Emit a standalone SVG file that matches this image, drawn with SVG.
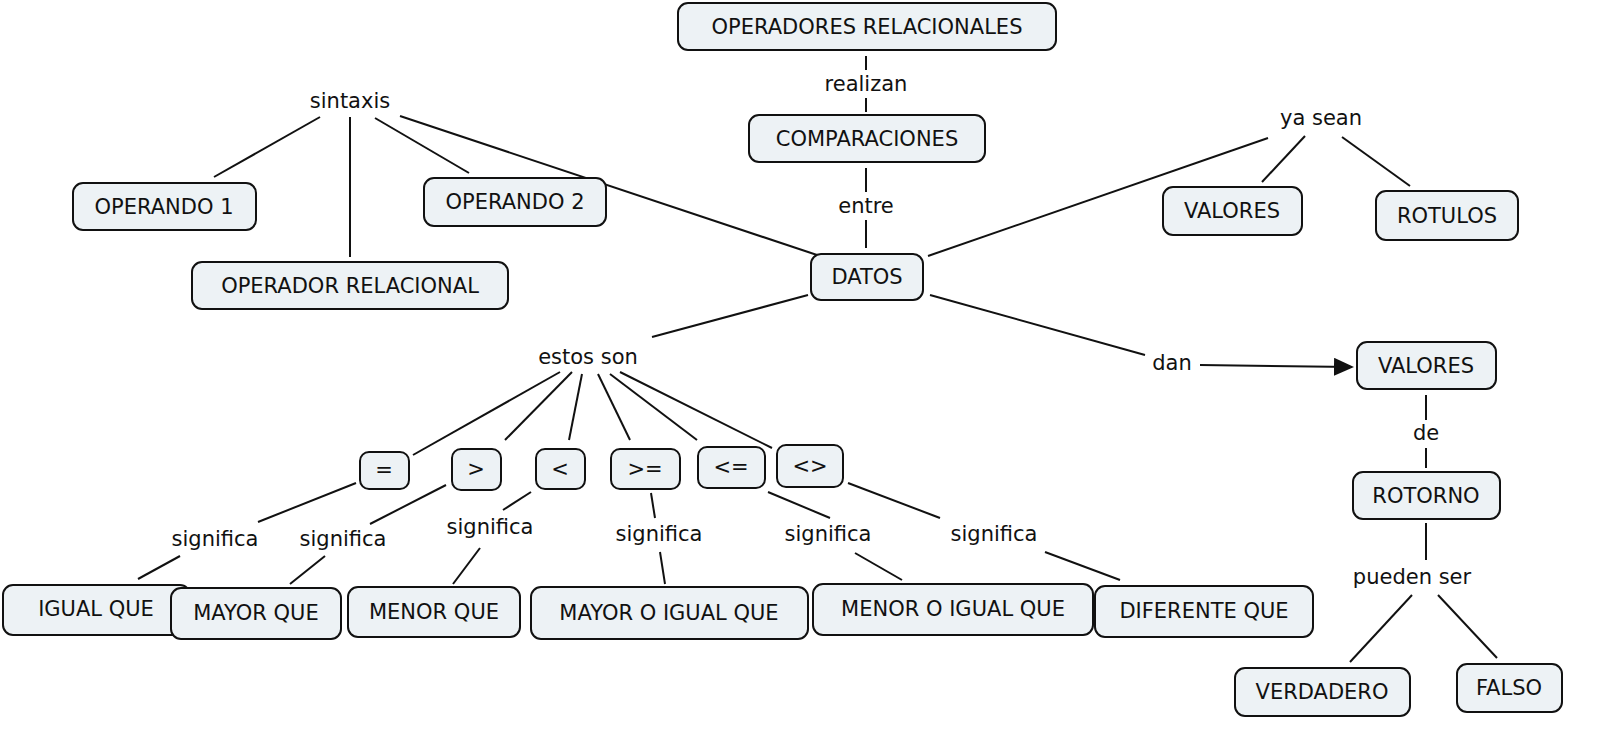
<svg xmlns="http://www.w3.org/2000/svg" width="1600" height="735" viewBox="0 0 1600 735">
<style>
.n rect{fill:#edf2f5;stroke:#111;stroke-width:2}
text{font-family:"DejaVu Sans",Verdana,sans-serif;font-size:21px;fill:#111;text-anchor:middle;dominant-baseline:central}
.c line{stroke:#111;stroke-width:2}
</style>
<defs><marker id="a" markerWidth="20" markerHeight="20" refX="18" refY="9" orient="auto" markerUnits="userSpaceOnUse" viewBox="0 0 20 20"><path d="M0,0L20,9L0,18z" fill="#111"/></marker></defs>
<rect width="1600" height="735" fill="#fff"/>
<g class="c">
<line x1="320" y1="117" x2="214" y2="177"/><line x1="350" y1="117" x2="350" y2="257"/><line x1="375" y1="118" x2="469" y2="173"/><line x1="400" y1="116" x2="820" y2="256"/>
<line x1="866" y1="56" x2="866" y2="70"/><line x1="866" y1="98" x2="866" y2="112"/><line x1="866" y1="168" x2="866" y2="192"/><line x1="866" y1="220" x2="866" y2="248"/>
<line x1="1268" y1="138" x2="928" y2="256"/><line x1="1305" y1="136" x2="1262" y2="182"/><line x1="1342" y1="137" x2="1410" y2="186"/>
<line x1="808" y1="295" x2="652" y2="337"/><line x1="560" y1="372" x2="413" y2="455"/><line x1="572" y1="372" x2="505" y2="440"/><line x1="582" y1="374" x2="569" y2="440"/><line x1="598" y1="374" x2="630" y2="440"/><line x1="610" y1="374" x2="697" y2="440"/><line x1="620" y1="372" x2="772" y2="448"/>
<line x1="930" y1="295" x2="1145" y2="355"/><line x1="1200" y1="365" x2="1352" y2="367" marker-end="url(#a)"/>
<line x1="1426" y1="395" x2="1426" y2="420"/><line x1="1426" y1="448" x2="1426" y2="468"/><line x1="1426" y1="523" x2="1426" y2="560"/><line x1="1412" y1="595" x2="1350" y2="662"/><line x1="1438" y1="595" x2="1497" y2="658"/>
<line x1="356" y1="483" x2="258" y2="522"/><line x1="138" y1="579" x2="180" y2="556"/><line x1="446" y1="485" x2="370" y2="524"/><line x1="290" y1="584" x2="325" y2="556"/><line x1="531" y1="492" x2="503" y2="510"/><line x1="453" y1="584" x2="480" y2="548"/><line x1="651" y1="493" x2="655" y2="518"/><line x1="660" y1="552" x2="665" y2="584"/><line x1="768" y1="492" x2="830" y2="518"/><line x1="855" y1="553" x2="902" y2="580"/><line x1="848" y1="483" x2="940" y2="518"/><line x1="1045" y1="552" x2="1120" y2="580"/>
</g>
<g id="labels">
<text x="350" y="101">sintaxis</text><text x="866" y="84">realizan</text><text x="866" y="206">entre</text><text x="1321" y="118">ya sean</text><text x="588" y="357">estos son</text><text x="1172" y="363">dan</text><text x="1426" y="433">de</text><text x="1412" y="577">pueden ser</text>
<text x="215" y="539">significa</text><text x="343" y="539">significa</text><text x="490" y="527">significa</text><text x="659" y="534">significa</text><text x="828" y="534">significa</text><text x="994" y="534">significa</text>
</g>
<g id="n1" class="n"><rect x="678" y="3" width="378" height="47" rx="10"/><text x="867" y="27">OPERADORES RELACIONALES</text></g>
<g id="n2" class="n"><rect x="749" y="115" width="236" height="47" rx="10"/><text x="867" y="139">COMPARACIONES</text></g>
<g id="n3" class="n"><rect x="811" y="254" width="112" height="46" rx="10"/><text x="867" y="277">DATOS</text></g>
<g id="n4" class="n"><rect x="73" y="183" width="183" height="47" rx="10"/><text x="164" y="207">OPERANDO 1</text></g>
<g id="n5" class="n"><rect x="424" y="178" width="182" height="48" rx="10"/><text x="515" y="202">OPERANDO 2</text></g>
<g id="n6" class="n"><rect x="192" y="262" width="316" height="47" rx="10"/><text x="350" y="286">OPERADOR RELACIONAL</text></g>
<g id="n7" class="n"><rect x="1163" y="187" width="139" height="48" rx="10"/><text x="1232" y="211">VALORES</text></g>
<g id="n8" class="n"><rect x="1376" y="191" width="142" height="49" rx="10"/><text x="1447" y="216">ROTULOS</text></g>
<g id="n9" class="n"><rect x="1357" y="342" width="139" height="47" rx="10"/><text x="1426" y="366">VALORES</text></g>
<g id="n10" class="n"><rect x="1353" y="472" width="147" height="47" rx="10"/><text x="1426" y="496">ROTORNO</text></g>
<g id="n11" class="n"><rect x="1235" y="668" width="175" height="48" rx="10"/><text x="1322" y="692">VERDADERO</text></g>
<g id="n12" class="n"><rect x="1457" y="664" width="105" height="48" rx="10"/><text x="1509" y="688">FALSO</text></g>
<g id="n13" class="n"><rect x="360" y="452" width="49" height="37" rx="9"/><text x="384" y="470">=</text></g>
<g id="n14" class="n"><rect x="452" y="449" width="49" height="41" rx="9"/><text x="476" y="469">&gt;</text></g>
<g id="n15" class="n"><rect x="536" y="449" width="49" height="40" rx="9"/><text x="560" y="469">&lt;</text></g>
<g id="n16" class="n"><rect x="611" y="449" width="69" height="40" rx="9"/><text x="645" y="469">&gt;=</text></g>
<g id="n17" class="n"><rect x="698" y="447" width="67" height="41" rx="9"/><text x="731" y="467">&lt;=</text></g>
<g id="n18" class="n"><rect x="777" y="445" width="66" height="42" rx="9"/><text x="810" y="466">&lt;&gt;</text></g>
<g id="n19" class="n"><rect x="3" y="585" width="187" height="50" rx="10"/><text x="96" y="609">IGUAL QUE</text></g>
<g id="n20" class="n"><rect x="171" y="588" width="170" height="51" rx="10"/><text x="256" y="613">MAYOR QUE</text></g>
<g id="n21" class="n"><rect x="348" y="587" width="172" height="50" rx="10"/><text x="434" y="612">MENOR QUE</text></g>
<g id="n22" class="n"><rect x="531" y="587" width="277" height="52" rx="10"/><text x="669" y="613">MAYOR O IGUAL QUE</text></g>
<g id="n23" class="n"><rect x="813" y="584" width="280" height="51" rx="10"/><text x="953" y="609">MENOR O IGUAL QUE</text></g>
<g id="n24" class="n"><rect x="1095" y="586" width="218" height="51" rx="10"/><text x="1204" y="611">DIFERENTE QUE</text></g>
</svg>
